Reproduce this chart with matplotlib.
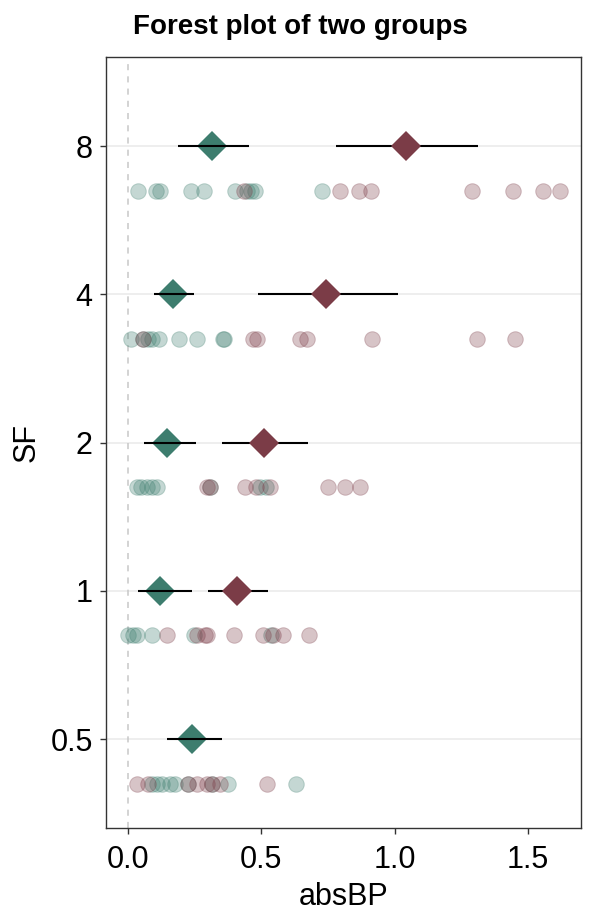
import matplotlib
matplotlib.use("Agg")
from matplotlib import pyplot as plt
import numpy as np

plt.rcParams['font.family'] = ['Liberation Sans', 'DejaVu Sans']

# SF levels (bottom to top)
sf_levels = ['0.5', '1', '2', '4', '8']

# raw observations per SF level, group A (green) and group B (red)
green_pts = {
    '0.5': [0.089, 0.1075, 0.126, 0.1575, 0.176, 0.226, 0.314, 0.376, 0.63],
    '1': [0.001, 0.02, 0.035, 0.091, 0.2475, 0.535],
    '2': [0.0325, 0.05, 0.07, 0.09, 0.1075, 0.3075, 0.495, 0.5175],
    '4': [0.01, 0.055, 0.075, 0.089, 0.1175, 0.19, 0.2575, 0.355, 0.36],
    '8': [0.0375, 0.105, 0.122, 0.235, 0.285, 0.402, 0.445, 0.46, 0.476, 0.726],
}
red_pts = {
    '0.5': [0.0325, 0.076, 0.226, 0.2575, 0.2975, 0.314, 0.345, 0.52],
    '1': [0.1475, 0.2575, 0.289, 0.2975, 0.3975, 0.5075, 0.545, 0.5825, 0.6775],
    '2': [0.2975, 0.3075, 0.439, 0.48, 0.5325, 0.75, 0.814, 0.87],
    '4': [0.055, 0.47, 0.4825, 0.645, 0.67, 0.914, 1.3075, 1.451],
    '8': [0.435, 0.797, 0.868, 0.91, 1.292, 1.445, 1.557, 1.62],
}

# summary estimates and intervals
green_est = [0.24, 0.12, 0.145, 0.17, 0.317]
green_lo = [0.1475, 0.0375, 0.06, 0.0975, 0.1875]
green_hi = [0.3525, 0.24, 0.255, 0.2475, 0.4525]
red_est = [np.nan, 0.41, 0.51, 0.7425, 1.0425]
red_lo = [np.nan, 0.30, 0.3525, 0.4875, 0.78]
red_hi = [np.nan, 0.525, 0.675, 1.011, 1.311]

green = '#3d7d6e'
red = '#7b3c47'

fig = plt.figure(figsize=(5.95, 9.21), dpi=100)
ax = fig.add_axes([0.178, 0.101, 0.7985, 0.837])

ypos = np.arange(1, len(sf_levels) + 1)
nudge = -0.3

# reference line at zero
ax.axvline(0, color='#c8c8c8', lw=1.1, ls=(0, (4, 4)), zorder=1)

# horizontal guide lines at each level
for y in ypos:
    ax.axhline(y, color='#ebebeb', lw=1.2, zorder=0)

# raw points
for i, lvl in enumerate(sf_levels):
    g = green_pts[lvl]
    r = red_pts[lvl]
    ax.scatter(g, np.full(len(g), ypos[i] + nudge), s=125, color=green,
               alpha=0.3, linewidths=0.7, zorder=2)
    ax.scatter(r, np.full(len(r), ypos[i] + nudge), s=125, color=red,
               alpha=0.3, linewidths=0.7, zorder=2)

# summary diamonds and intervals
ax.plot(green_est, ypos, 'D', color=green, ms=15.5, mew=0, zorder=3)
ax.hlines(ypos, green_lo, green_hi, color='black', lw=1.5, zorder=4)
ax.hlines(ypos, red_lo, red_hi, color='black', lw=1.5, zorder=4)
ax.plot(red_est, ypos, 'D', color=red, ms=15.5, mew=0, zorder=5)

ax.set_xlim(-0.0825, 1.699)
ax.set_ylim(0.4, 5.6)
ax.set_yticks(ypos)
ax.set_yticklabels(sf_levels)
ax.set_xticks([0, 0.5, 1.0, 1.5])
ax.set_xticklabels(['0.0', '0.5', '1.0', '1.5'])

for s in ax.spines.values():
    s.set_color('#333333')
    s.set_linewidth(1.0)
ax.tick_params(axis='both', labelsize=22, colors='#333333', labelcolor='black',
               length=4.5, width=1.0)
ax.tick_params(axis='x', pad=7.5)
ax.tick_params(axis='y', pad=5)

ax.set_xlabel('absBP', fontsize=22, labelpad=5)
ax.set_ylabel('SF', fontsize=22, labelpad=6)
fig.text(0.505, 0.971, 'Forest plot of two groups', ha='center', va='center',
         fontsize=20, fontweight='bold')

fig.savefig('out.png', dpi=100)
